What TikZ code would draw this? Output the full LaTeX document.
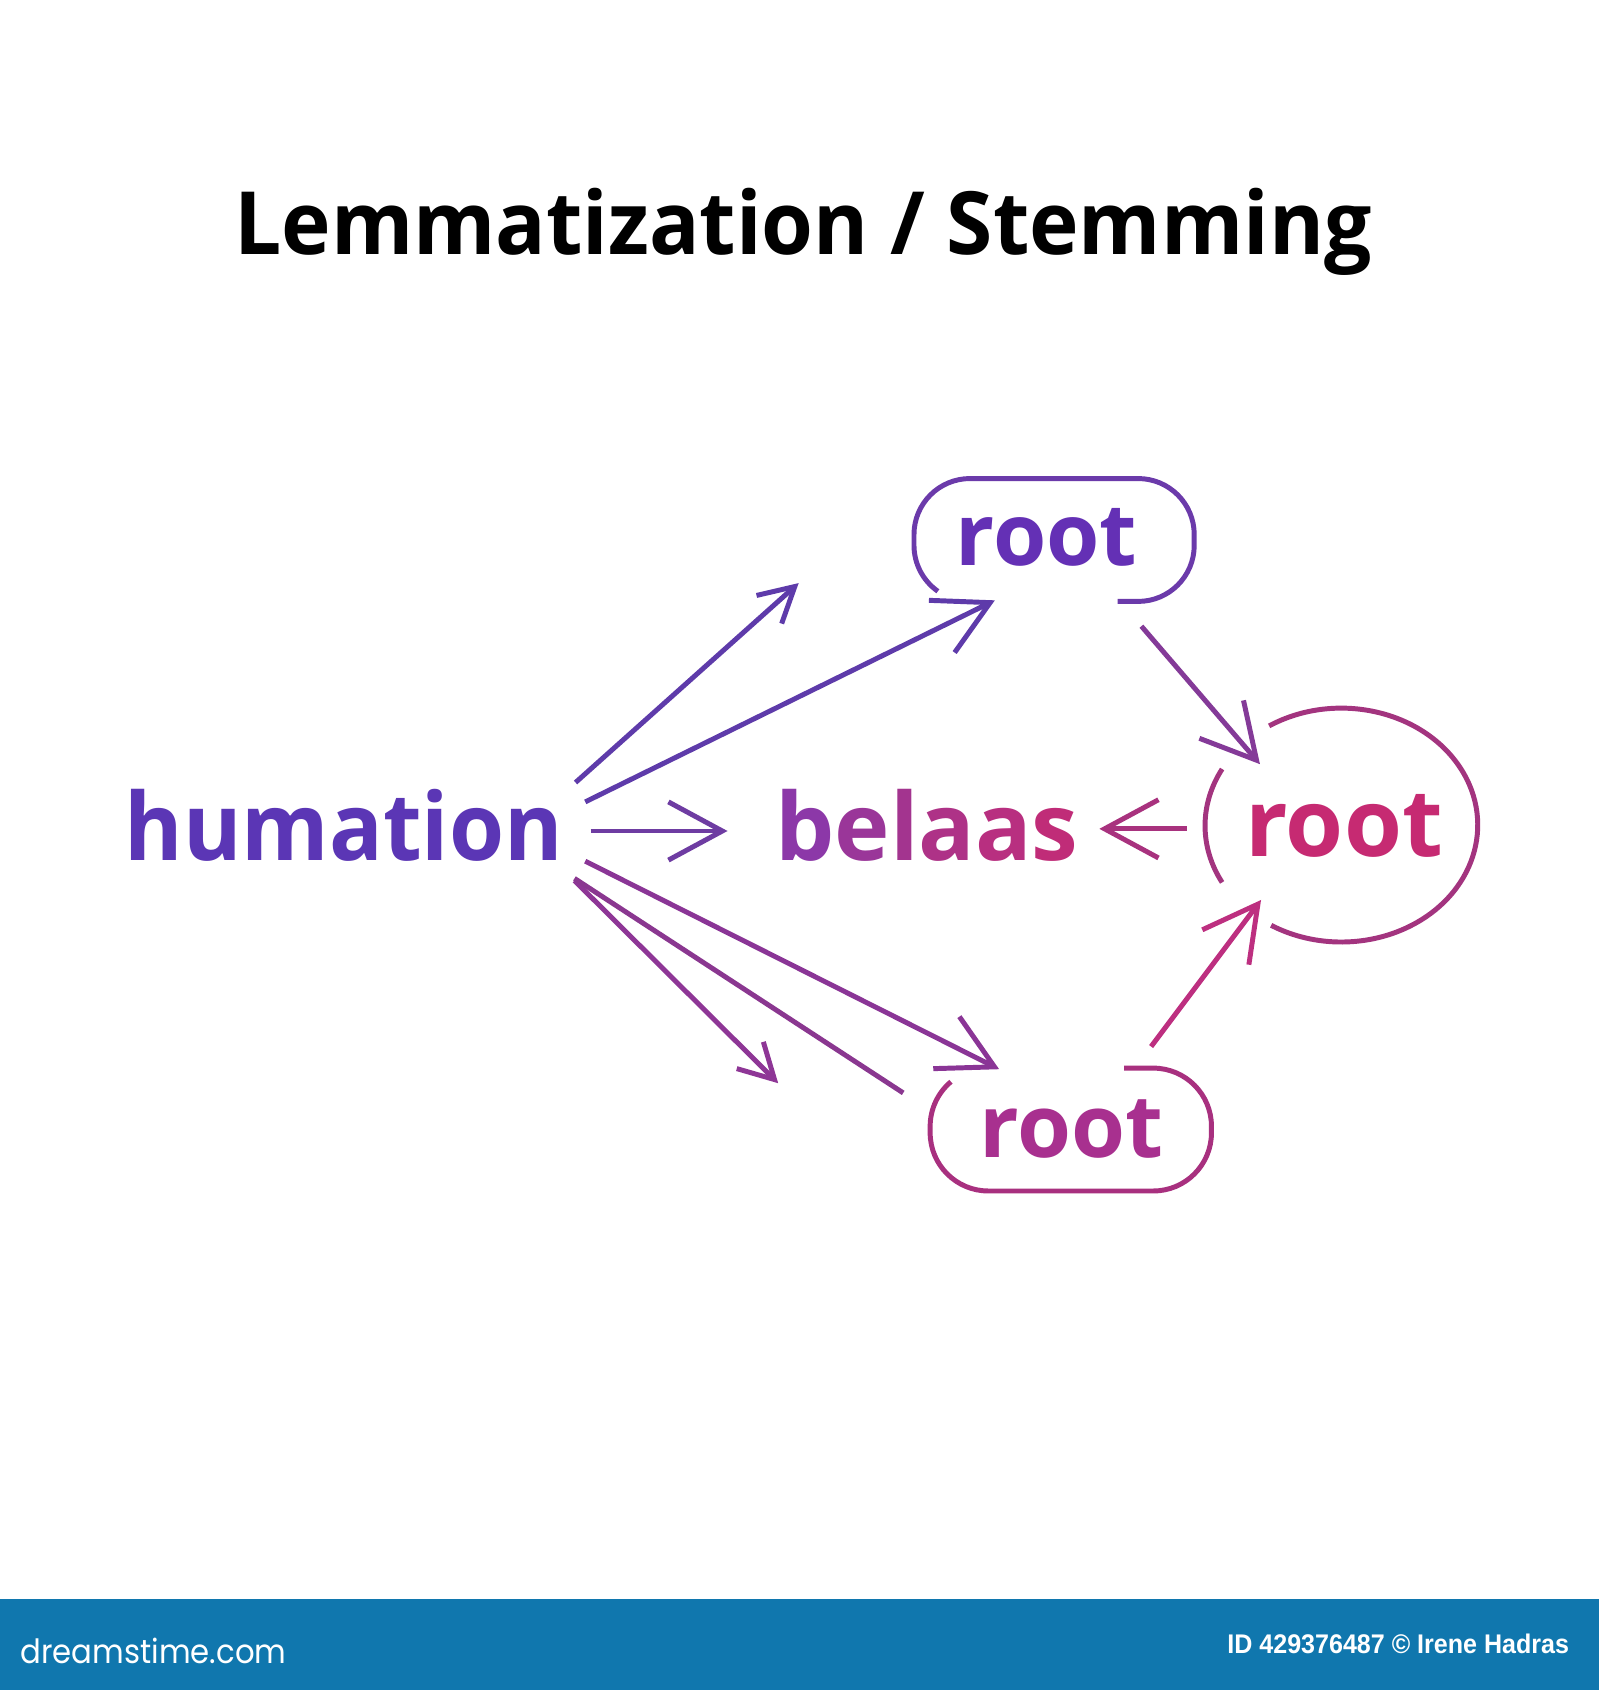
\documentclass[tikz,border=0pt]{standalone}
\usepackage{fontspec}
\setmainfont{Open Sans}
\newfontfamily\barfont{Liberation Sans}
\newfontfamily\logofont{Poppins}
\usetikzlibrary{arrows.meta}
\definecolor{humc}{HTML}{5B36B5}
\definecolor{cA}{HTML}{5E3BAA}
\definecolor{cB}{HTML}{6E3CA2}
\definecolor{cC}{HTML}{8A3596}
\definecolor{cD}{HTML}{8A3790}
\definecolor{cE}{HTML}{8E3696}
\definecolor{topbox}{HTML}{6B3AAA}
\definecolor{toptext}{HTML}{6430B5}
\definecolor{cF}{HTML}{843A98}
\definecolor{ellc}{HTML}{A3347F}
\definecolor{righttext}{HTML}{C62A72}
\definecolor{cG}{HTML}{A8327E}
\definecolor{cH}{HTML}{BD2F80}
\definecolor{botbox}{HTML}{A8307F}
\definecolor{bottext}{HTML}{A8308F}
\definecolor{barblue}{HTML}{1077AE}
\definecolor{bl1}{HTML}{8C38A8}
\definecolor{bl2}{HTML}{9A3699}
\definecolor{bl3}{HTML}{A3348F}
\definecolor{bl4}{HTML}{AE3287}
\definecolor{bl5}{HTML}{B82F80}
\definecolor{bl6}{HTML}{C02C78}
\tikzset{
  word/.style={inner sep=0pt, anchor=base, font=\fontsize{87pt}{100pt}\selectfont\bfseries},
  conn/.style={line width=4.6pt},
  bighead/.style={conn, -{Straight Barb[length=50pt,width=54pt]}},
  smallhead/.style={conn, -{Straight Barb[length=32pt,width=35pt]}},
  outline/.style={line width=4.6pt},
}
\begin{document}
\begin{tikzpicture}[x=1pt,y=1pt]
\useasboundingbox (0,0) rectangle (1484,-1568);
\fill[white] (0,0) rectangle (1484,-1568);
% title
\node[inner sep=0pt, anchor=base, xscale=0.96, font=\fontsize{81pt}{96pt}\selectfont\bfseries] (title) at (745,-236) {Lemmatization / Stemming};
% words
\node[word, xscale=0.95, text=humc] (hum) at (319,-798) {humation};
\node[word] (bel) at (860,-798) {\textcolor{bl1}{b}\textcolor{bl2}{e}\textcolor{bl3}{l}\textcolor{bl4}{a}\textcolor{bl5}{a}\textcolor{bl6}{s}};
\node[word, font=\fontsize{80pt}{96pt}\selectfont\bfseries, text=toptext] (rtop) at (971,-525) {root};
\node[word, text=righttext] (rright) at (1247,-795) {root};
\node[word, font=\fontsize{81pt}{96pt}\selectfont\bfseries, text=bottext] (rbot) at (994,-1074) {root};
% outlines
\draw[outline, topbox] (1037,-558) -- (1056,-558) arc[start angle=-90,end angle=0,radius=52pt]
  -- (1108,-496) arc[start angle=0,end angle=90,radius=52pt]
  -- (900,-444) arc[start angle=90,end angle=180,radius=52pt]
  -- (848,-506) arc[start angle=180,end angle=235,radius=52pt];
\draw[outline, ellc] (1177.5,-673.5) arc[start angle=122,end angle=-121,x radius=126.5pt,y radius=108.5pt];
\draw[outline, ellc] (1133.9,-713.5) arc[start angle=151,end angle=209,x radius=126.5pt,y radius=108.5pt];
\draw[outline, botbox] (1043,-991) -- (1070,-991) arc[start angle=90,end angle=0,radius=54pt]
  -- (1124,-1051) arc[start angle=0,end angle=-90,radius=54pt]
  -- (917,-1105) arc[start angle=270,end angle=180,radius=54pt]
  -- (863,-1045) arc[start angle=180,end angle=130,radius=54pt];
% connector end points
\coordinate (a1s) at (534,-726);  \coordinate (a1e) at (741,-541);
\coordinate (a2s) at (543,-744);  \coordinate (a2e) at (923,-557);
\coordinate (a3s) at (548,-771);  \coordinate (a3e) at (675,-771);
\coordinate (a4s) at (533,-817);  \coordinate (a4e) at (722,-1005);
\coordinate (a5s) at (533,-815);  \coordinate (a5e) at (838,-1014);
\coordinate (a6s) at (543,-799);  \coordinate (a6e) at (927,-992);
\coordinate (a7s) at (1059,-581); \coordinate (a7e) at (1169,-709);
\coordinate (a8s) at (1101,-769); \coordinate (a8e) at (1020,-769);
\coordinate (a9s) at (1068,-971); \coordinate (a9e) at (1170,-835);
% connectors
\draw[smallhead, cA] (a1s) -- (a1e);
\draw[bighead, cA] (a2s) -- (a2e);
\draw[bighead, cB] (a3s) -- (a3e);
\draw[smallhead, cE] (a4s) -- (a4e);
\draw[conn, cD] (a5s) -- (a5e);
\draw[bighead, cC] (a6s) -- (a6e);
\draw[bighead, cF] (a7s) -- (a7e);
\draw[bighead, cG] (a8s) -- (a8e);
\draw[bighead, cH] (a9s) -- (a9e);
% bottom bar
\fill[barblue] (0,-1484) rectangle (1484,-1568);
\node[inner sep=0pt, anchor=base west, text=white, xscale=0.92, font=\logofont\fontsize{31pt}{36pt}\selectfont] (logo) at (19,-1543) {dreamstime.com};
\node[inner sep=0pt, anchor=base east, text=white, xscale=0.93, font=\barfont\bfseries\fontsize{25pt}{30pt}\selectfont] (credit) at (1456,-1534) {ID 429376487 © Irene Hadras};
\end{tikzpicture}
\end{document}
